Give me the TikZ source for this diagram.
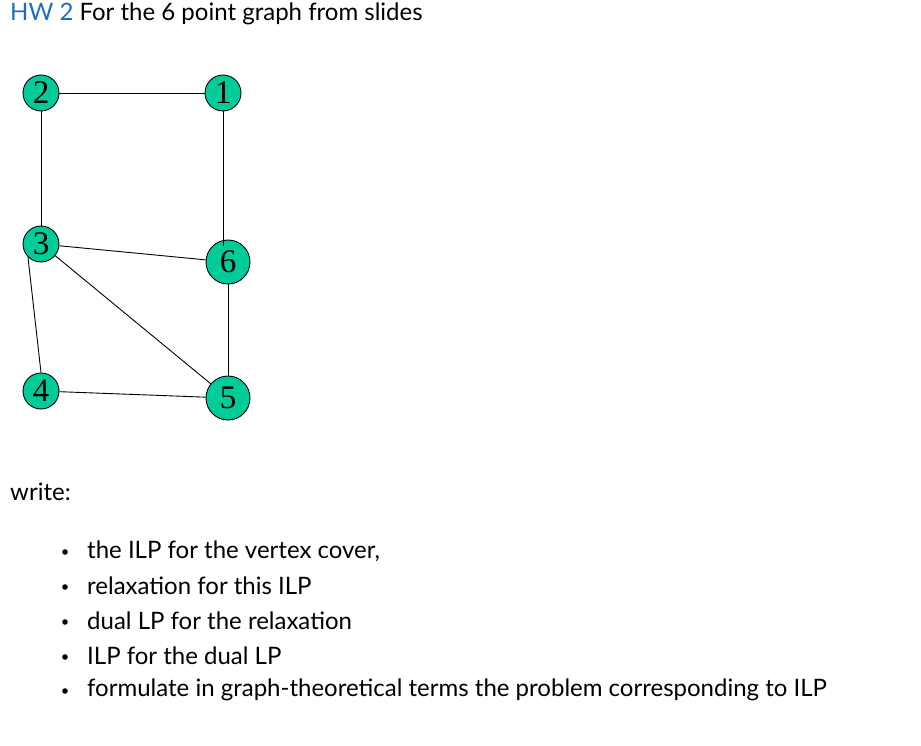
\documentclass[tikz,border=0pt]{standalone}
\usepackage{fontspec}
\setmainfont{Lato}
\newfontfamily\numfont{Liberation Serif}
\begin{document}
\begin{tikzpicture}[x=1pt,y=-1pt,
  vtx/.style={circle,draw,line width=0.9pt,fill={rgb,255:red,0;green,204;blue,153},inner sep=0pt,minimum size=#1,font=\numfont\fontsize{33}{33}\selectfont},
  vtx/.default=36pt,
  txt/.style={anchor=west,font=\fontsize{24}{28}\selectfont,inner sep=0pt},
  edge/.style={line width=0.9pt}]
\useasboundingbox (0,0) rectangle (921,746);
\node[vtx] (n2) at (41,93) {2};
\node[vtx] (n1) at (223,93) {1};
\node[vtx] (n3) at (41,244) {3};
\node[vtx=44pt] (n6) at (228,262) {6};
\node[vtx] (n4) at (41,391) {4};
\node[vtx=44pt] (n5) at (228,398) {5};
\draw[edge] (n2) -- (n1);
\draw[edge] (n2) -- (n3);
\draw[edge] (n1.south) -- (n1.south |- n6.north west);
\draw[edge] (n3) -- (n6);
\draw[edge] (n3.south west) -- (n4.north);
\draw[edge] (n3) -- (n5);
\draw[edge] (n6) -- (n5);
\draw[edge] (n4) -- (n5);
\node[txt] (title) at (10,14) {\textcolor[RGB]{30,110,190}{HW 2} For the 6 point graph from slides};
\node[txt] (write) at (10,492) {write:};
\foreach \y/\t [count=\i] in {551/{the ILP for the vertex cover,},586/{relaxation for this ILP},621/{dual LP for the relaxation},656/{ILP for the dual LP},690/{formulate in graph-theoretical terms the problem corresponding to ILP}}{
  \fill (65,\y+1) circle (2.8pt);
  \node[txt] (b\i) at (87,\y) {\t};
}
\end{tikzpicture}
\end{document}
